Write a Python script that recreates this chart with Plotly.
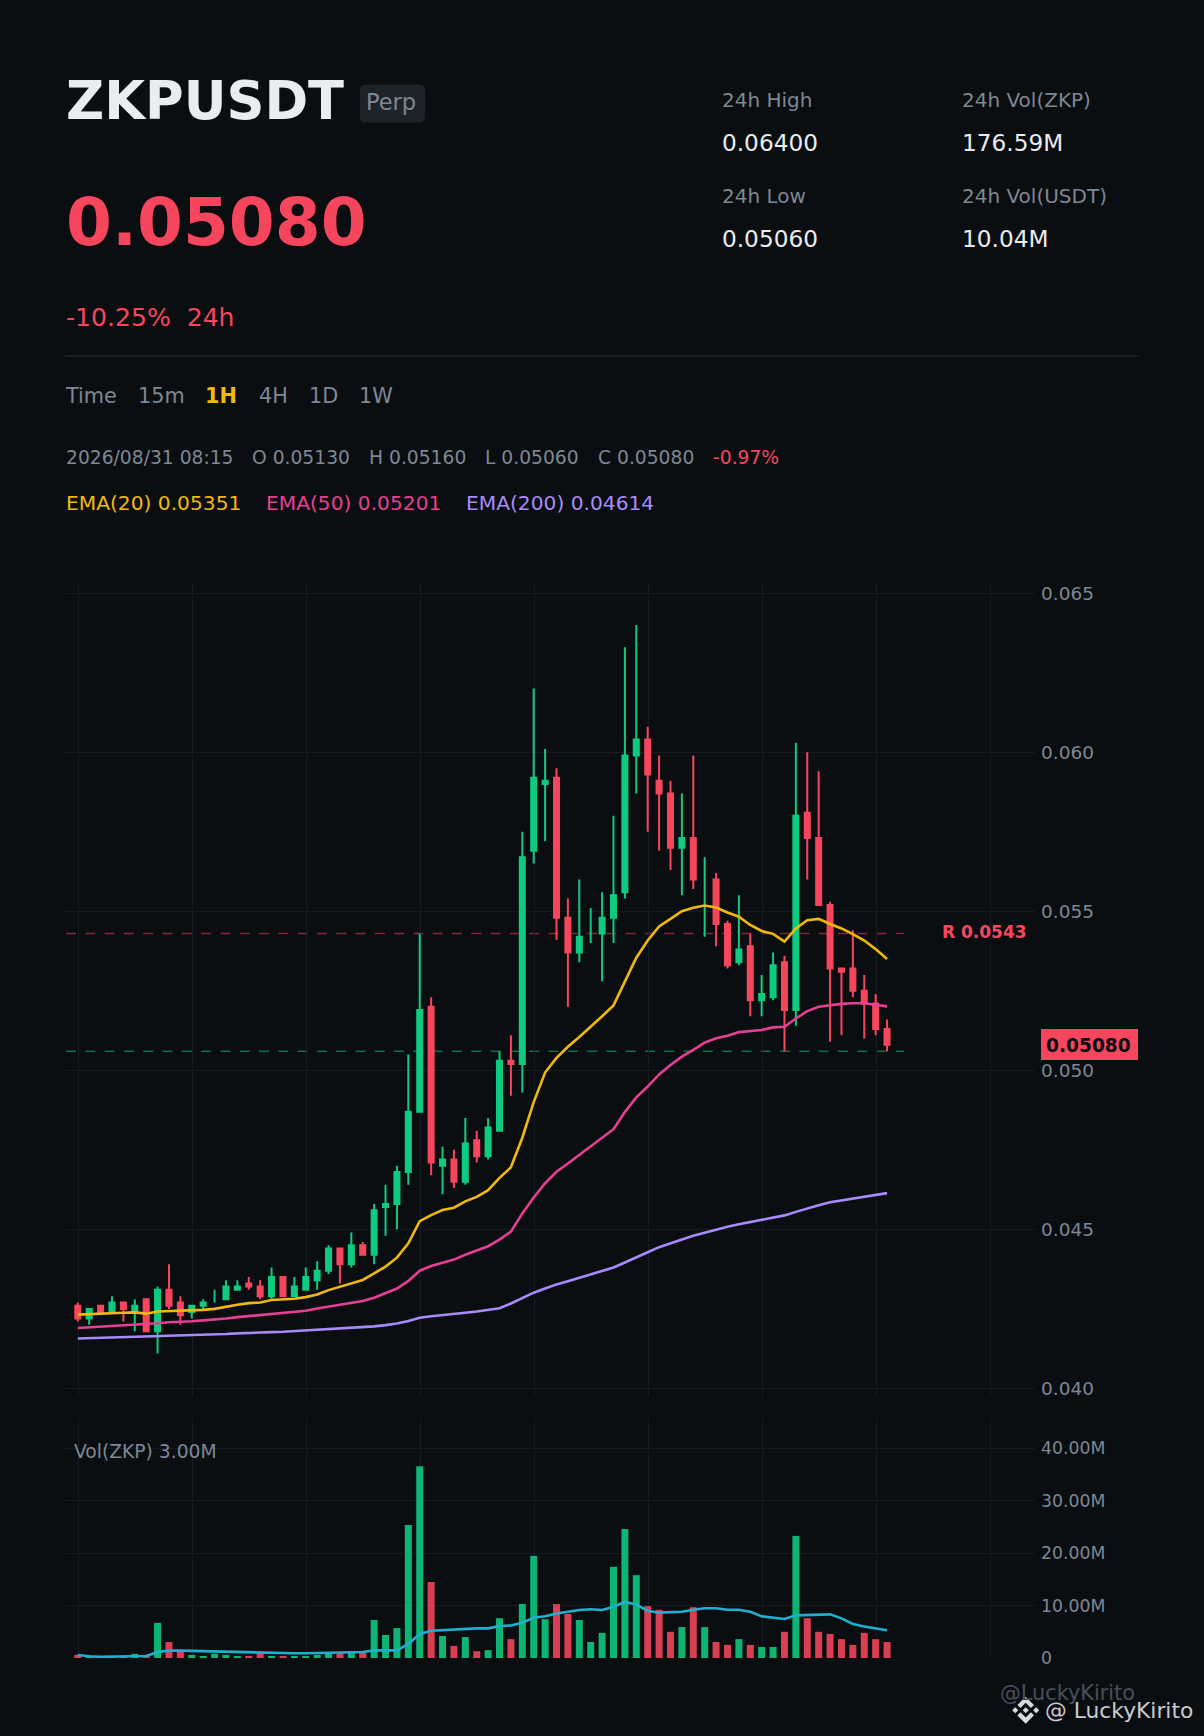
import plotly.graph_objects as go

W, H = 1204, 1736
BG = '#0B0E11'
GRID = '#161A23'
GREEN = '#0ECB81'
RED = '#F6465D'
GREY = '#7E8794'
LIGHT = '#EAECEF'
YELLOW = '#F0B90B'
PINK = '#E63F94'
PURPLE = '#A78BFA'
CYAN = '#1FB0D0'
FONT = 'DejaVu Sans'

opens = [
    .0426, .0422, .0426, .0424, .0427, .0424, .0428, .0418, .0431, .0427,
    .0424, .0426, .0429, .0428, .0431, .0433, .0432, .0429, .0435, .0429,
    .0431, .0434, .0437, .0444, .0439, .0445, .0442, .0457, .0458, .0468,
    .0487, .0520, .0470, .0472, .0465, .0478, .0473, .0481, .0503, .0502,
    .0569, .0590, .0592, .0548, .0537, .0545, .0543, .0548, .0556, .0599,
    .0604, .0591, .0587, .0570, .0573, .0550, .0560, .0546, .0534, .0539,
    .0522, .0523, .0534, .0519, .0581, .0573, .0552, .0532, .0532, .0525,
    .0521, .0513]
closes = [
    .0422, .0425, .0424, .0427, .0425, .0426, .0418, .0431, .0426, .0423,
    .0426, .0427, .0429, .0432, .0432, .0432, .0429, .0435, .0429, .0432,
    .0435, .0437, .0444, .0439, .0445, .0442, .0456, .0458, .0468, .0487,
    .0519, .0471, .0472, .0465, .0477, .0473, .0482, .0503, .0502, .0567,
    .0592, .0591, .0548, .0537, .0542, .0545, .0548, .0555, .0599, .0604,
    .0593, .0587, .0570, .0573, .0560, .0550, .0546, .0533, .0538, .0522,
    .0524, .0533, .0519, .0580, .0573, .0552, .0532, .0531, .0525, .0521,
    .0513, .0508]
highs = [
    .0427, .0425, .0426, .0429, .0427, .0428, .0428, .0432, .0439, .0429,
    .0426, .0428, .0431, .0434, .0434, .0435, .0434, .0438, .0435, .0435,
    .0438, .0440, .0445, .0444, .0449, .0446, .0458, .0464, .0470, .0505,
    .0543, .0523, .0476, .0475, .0485, .0481, .0485, .0506, .0511, .0575,
    .0620, .0601, .0595, .0554, .0560, .0551, .0556, .0580, .0633, .0640,
    .0608, .0599, .0591, .0587, .0599, .0567, .0562, .0547, .0555, .0543,
    .0530, .0537, .0536, .0603, .0600, .0594, .0553, .0532, .0544, .0530,
    .0524, .0516]
lows = [
    .0421, .0420, .0424, .0424, .0421, .0418, .0418, .0411, .0425, .0420,
    .0422, .0425, .0427, .0428, .0431, .0431, .0428, .0428, .0429, .0429,
    .0431, .0431, .0436, .0433, .0438, .0442, .0439, .0448, .0450, .0464,
    .0487, .0467, .0461, .0463, .0464, .0471, .0472, .0481, .0492, .0493,
    .0565, .0572, .0541, .0520, .0534, .0540, .0528, .0540, .0554, .0587,
    .0575, .0569, .0563, .0555, .0557, .0542, .0539, .0532, .0533, .0517,
    .0517, .0522, .0506, .0514, .0560, .0552, .0509, .0511, .0523, .0510,
    .0511, .0506]
ema20 = [
    .04232, .04234, .04234, .04237, .04238, .04239, .04235, .04242, .04243, .04243,
    .04244, .04247, .04250, .04257, .04263, .04268, .04270, .04278, .04280, .04282,
    .04287, .04295, .04309, .04319, .04331, .04341, .04362, .04383, .04411, .04456,
    .04526, .04545, .04561, .04568, .04588, .04602, .04623, .04662, .04695, .04788,
    .04900, .04993, .05039, .05074, .05105, .05136, .05170, .05204, .05279, .05354,
    .05408, .05452, .05476, .05500, .05511, .05518, .05512, .05496, .05483, .05457,
    .05438, .05429, .05405, .05446, .05472, .05476, .05460, .05446, .05428, .05408,
    .05381, .05350]
ema50 = [
    .04190, .04192, .04194, .04197, .04199, .04201, .04201, .04205, .04208, .04209,
    .04211, .04214, .04216, .04220, .04224, .04227, .04230, .04235, .04237, .04240,
    .04244, .04251, .04257, .04263, .04269, .04275, .04285, .04299, .04314, .04338,
    .04370, .04385, .04396, .04405, .04420, .04433, .04447, .04468, .04493, .04550,
    .04600, .04645, .04681, .04707, .04734, .04760, .04786, .04815, .04869, .04915,
    .04949, .04987, .05017, .05043, .05064, .05087, .05101, .05109, .05120, .05123,
    .05127, .05135, .05137, .05163, .05186, .05200, .05205, .05209, .05211, .05211,
    .05206, .05201]
ema200 = [
    .04157, .04158, .04159, .04160, .04161, .04162, .04162, .04163, .04164, .04165,
    .04167, .04168, .04170, .04171, .04173, .04175, .04176, .04177, .04178, .04180,
    .04181, .04183, .04185, .04187, .04189, .04192, .04195, .04199, .04204, .04212,
    .04222, .04227, .04230, .04234, .04238, .04242, .04246, .04252, .04267, .04283,
    .04301, .04314, .04327, .04337, .04348, .04358, .04369, .04380, .04396, .04413,
    .04428, .04444, .04457, .04468, .04480, .04490, .04500, .04508, .04516, .04523,
    .04529, .04537, .04544, .04555, .04566, .04576, .04585, .04591, .04597, .04604,
    .04609, .04614]
volumes = [
    0.6, 0.3, 0.2, 0.2, 0.2, 0.8, 0.2, 6.7, 3.05, 1.15,
    0.6, 0.4, 0.8, 0.6, 0.4, 0.4, 0.95, 0.4, 0.2, 0.4,
    0.2, 0.6, 0.95, 0.95, 1.3, 0.95, 7.25, 4.4, 5.7, 25.4,
    36.6, 14.5, 4.2, 2.3, 4.0, 1.3, 1.5, 7.6, 3.6, 10.3,
    19.5, 7.4, 10.3, 8.4, 7.25, 3.05, 4.8, 17.4, 24.6, 15.8,
    9.9, 9.2, 5.0, 5.9, 9.7, 5.9, 3.05, 2.5, 3.6, 2.5,
    2.1, 2.1, 5.0, 23.3, 7.6, 5.0, 4.6, 3.6, 2.5, 4.8,
    3.6, 3.05]
vol_ma = [
    0.57, 0.32, 0.25, 0.25, 0.32, 0.38, 0.38, 1.15, 1.4, 1.4,
    1.34, 1.27, 1.2, 1.15, 1.08, 1.08, 1.08, 1.0, 0.95, 0.9,
    0.9, 0.95, 1.0, 1.08, 1.15, 1.15, 1.46, 1.4, 1.46, 2.67,
    4.6, 5.2, 5.34, 5.47, 5.6, 5.66, 5.66, 6.1, 6.2, 6.74,
    7.7, 7.95, 8.5, 8.84, 9.16, 9.29, 9.16, 9.8, 10.7, 10.2,
    9.0, 8.65, 8.7, 8.84, 9.2, 9.5, 9.5, 9.2, 9.2, 8.84,
    7.95, 7.7, 7.44, 8.14, 8.2, 8.27, 8.33, 7.57, 6.5, 6.0,
    5.66, 5.28]

resistance = 0.0543
support = 0.0506
price_ticks = [0.040, 0.045, 0.050, 0.055, 0.060, 0.065]
vol_ticks = [0, 10, 20, 30, 40]
vol_labels = ['0', '10.00M', '20.00M', '30.00M', '40.00M']

idx = list(range(len(opens)))
# candles sit about a pixel left of the vertical grid
xs = [i - 0.08 for i in idx]
solid = [i for i in idx if opens[i] != closes[i]]
flat = [i for i in idx if opens[i] == closes[i]]
bar_colors = [GREEN if closes[i] >= opens[i] else RED for i in idx]


def px(x):
    return x / W


def py(y):
    return 1 - y / H


fig = go.Figure()

# wicks with no body at all
wick_x, wick_y = [], []
for i in flat:
    wick_x += [xs[i], xs[i], None]
    wick_y += [highs[i], lows[i], None]
fig.add_trace(go.Scatter(x=wick_x, y=wick_y, mode='lines', line=dict(color=GREEN, width=2),
                         xaxis='x', yaxis='y', hoverinfo='skip'))
fig.add_trace(go.Candlestick(
    x=[xs[i] for i in solid],
    open=[opens[i] for i in solid], high=[highs[i] for i in solid],
    low=[lows[i] for i in solid], close=[closes[i] for i in solid],
    increasing=dict(line=dict(color=GREEN, width=2), fillcolor=GREEN),
    decreasing=dict(line=dict(color=RED, width=2), fillcolor=RED),
    whiskerwidth=0, xaxis='x', yaxis='y'))
for values, color in [(ema20, YELLOW), (ema50, PINK), (ema200, PURPLE)]:
    fig.add_trace(go.Scatter(x=xs, y=values, mode='lines', line=dict(color=color, width=2.6),
                             xaxis='x', yaxis='y'))

fig.add_trace(go.Bar(x=xs, y=volumes, width=7 / 11.4, marker=dict(color=bar_colors, line_width=0),
                     opacity=0.88, xaxis='x2', yaxis='y2'))
fig.add_trace(go.Scatter(x=xs, y=vol_ma, mode='lines', line=dict(color=CYAN, width=2.6),
                         xaxis='x2', yaxis='y2'))

x_axis = dict(range=[-1.114, 83.9], tick0=0, dtick=10, showticklabels=False, ticks='',
              showgrid=True, gridcolor=GRID, gridwidth=1, zeroline=False, automargin=False,
              domain=[px(66), px(1035)], rangeslider=dict(visible=False))

shapes = [
    # header divider and badges
    dict(type='line', xref='paper', yref='paper', x0=px(65), x1=px(1139), y0=py(356), y1=py(356),
         line=dict(color='#1E2329', width=1.5)),
    dict(type='rect', xref='paper', yref='paper', x0=px(1041), x1=px(1138), y0=py(1029), y1=py(1060),
         fillcolor=RED, line_width=0),
    dict(type='line', xref='x', yref='y', x0=-1.114, x1=72.4, y0=resistance, y1=resistance, layer='below',
         line=dict(color='rgba(246,70,93,0.5)', width=1.6, dash='10px,9.3px')),
    dict(type='line', xref='x', yref='y', x0=-1.114, x1=72.4, y0=support, y1=support, layer='below',
         line=dict(color='rgba(14,203,129,0.5)', width=1.6, dash='10px,9.3px')),
]


def rounded(x0, y0, x1, y1, r):
    return (f'M{px(x0 + r)},{py(y0)} L{px(x1 - r)},{py(y0)} Q{px(x1)},{py(y0)} {px(x1)},{py(y0 + r)} '
            f'L{px(x1)},{py(y1 - r)} Q{px(x1)},{py(y1)} {px(x1 - r)},{py(y1)} '
            f'L{px(x0 + r)},{py(y1)} Q{px(x0)},{py(y1)} {px(x0)},{py(y1 - r)} '
            f'L{px(x0)},{py(y0 + r)} Q{px(x0)},{py(y0)} {px(x0 + r)},{py(y0)} Z')


shapes.append(dict(type='path', xref='paper', yref='paper', path=rounded(360, 84.5, 425, 122.5, 6),
                   fillcolor='#1E2329', line_width=0))

# binance logo, drawn on a 32x32 box
logo_parts = [
    [(9.8, 13.5), (16, 7.3), (22.2, 13.5), (25.8, 9.9), (16, 0), (6.2, 9.8)],
    [(0, 16), (3.6, 12.4), (7.2, 16), (3.6, 19.6)],
    [(12.4, 16), (16, 12.4), (19.6, 16), (16, 19.6)],
    [(24.8, 16), (28.4, 12.4), (32, 16), (28.4, 19.6)],
    [(9.8, 18.5), (16, 24.7), (22.2, 18.5), (25.8, 22.1), (16, 32), (6.2, 22.2)],
]
for part in logo_parts:
    pts = [(px(1012.2 + a * 27 / 32), py(1696.7 + b * 27 / 32)) for a, b in part]
    path = 'M' + ' L'.join(f'{a},{b}' for a, b in pts) + ' Z'
    shapes.append(dict(type='path', xref='paper', yref='paper', path=path, fillcolor='#D8DADD', line_width=0))

texts = [
    ('<b>ZKPUSDT</b>', 66, 100, 52.7, LIGHT),
    ('Perp', 366, 102, 22.5, GREY),
    ('<b>0.05080</b>', 66, 222, 66, RED),
    ('-10.25%\u00a0\u00a024h', 65.5, 317, 25.1, RED),
    ('24h High', 722, 100, 20, GREY),
    ('0.06400', 722, 143, 23.2, LIGHT),
    ('24h Low', 722, 196, 20, GREY),
    ('0.05060', 722, 239, 23.2, LIGHT),
    ('24h Vol(ZKP)', 962, 100, 20, GREY),
    ('176.59M', 962, 143, 23.2, LIGHT),
    ('24h Vol(USDT)', 962, 196, 20, GREY),
    ('10.04M', 962, 239, 23.2, LIGHT),
    ('Time', 65, 396, 20.8, GREY),
    ('15m', 138, 396, 20.8, GREY),
    ('<b>1H</b>', 205, 396, 20.8, YELLOW),
    ('4H', 258.5, 396, 20.8, GREY),
    ('1D', 308.5, 396, 20.8, GREY),
    ('1W', 358.5, 396, 20.8, GREY),
    ('2026/08/31 08:15', 65.5, 457, 18.7, GREY),
    ('O 0.05130', 251.5, 457, 18.7, GREY),
    ('H 0.05160', 369, 457, 18.7, GREY),
    ('L 0.05060', 485, 457, 18.7, GREY),
    ('C 0.05080', 597.5, 457, 18.7, GREY),
    ('-0.97%', 712.5, 457, 18.7, RED),
    ('EMA(20) 0.05351', 65.5, 503, 20.2, YELLOW),
    ('EMA(50) 0.05201', 265.5, 503, 20.2, PINK),
    ('EMA(200) 0.04614', 465.5, 503, 20.2, PURPLE),
    ('<b>R 0.0543</b>', 942, 932, 17, RED),
    ('<b>0.05080</b>', 1046, 1045, 18.6, '#0B0E11'),
    ('Vol(ZKP) 3.00M', 73.5, 1451, 18.7, GREY),
    ('@LuckyKirito', 1000, 1693, 20.8, '#484E58'),
    ('@ LuckyKirito', 1045, 1710, 21.8, '#C8CBD0'),
]
annotations = [
    dict(text=t, x=px(x), y=py(y), xref='paper', yref='paper', xanchor='left', yanchor='middle',
         showarrow=False, borderpad=0, borderwidth=0, font=dict(family=FONT, size=size, color=color))
    for t, x, y, size, color in texts
]

fig.update_layout(
    width=W, height=H, margin=dict(l=0, r=0, t=0, b=0, autoexpand=False), autosize=False,
    paper_bgcolor=BG, plot_bgcolor=BG, showlegend=False, boxgap=0.56, boxgroupgap=0,
    xaxis=x_axis,
    xaxis2=dict(x_axis, anchor='y2'),
    yaxis=dict(domain=[py(1397), py(583)], range=[0.03973, 0.06532], side='right', anchor='x',
               tickvals=price_ticks, tickformat='.3f', ticklabelstandoff=5,
               tickfont=dict(family=FONT, size=18.5, color=GREY),
               gridcolor=GRID, gridwidth=1, zeroline=False, showline=False, ticks='', automargin=False),
    yaxis2=dict(domain=[py(1658), py(1418)], range=[0, 45.8], side='right', anchor='x2',
                tickvals=vol_ticks, ticktext=vol_labels, ticklabelstandoff=5,
                tickfont=dict(family=FONT, size=17.3, color=GREY),
                gridcolor=GRID, gridwidth=1, zeroline=False, showline=False, ticks='', automargin=False),
    shapes=shapes, annotations=annotations,
)

page_css = ("var s=document.createElement('style');"
            "s.innerHTML='html,body{margin:0;padding:0;height:1736px;overflow:hidden;background:#0B0E11}';"
            "document.head.appendChild(s);")
fig.write_html("out.html", config=dict(displayModeBar=False), post_script=page_css)
